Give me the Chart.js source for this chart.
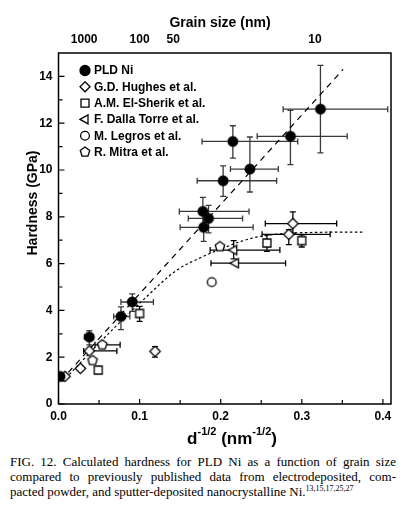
<!DOCTYPE html>
<html>
<head>
<meta charset="utf-8">
<script src="https://cdn.jsdelivr.net/npm/chart.js@4.4.1/dist/chart.umd.min.js"></script>
<style>
body { margin: 0; background: #fff; width: 410px; height: 521px; position: relative; overflow: hidden; }
#wrap { position: absolute; left: 0; top: 0; width: 410px; height: 450px; }
#caption { position: absolute; left: 10px; top: 454px; width: 386px; font: 13px/15px "Liberation Serif", "Times New Roman", serif; color: #000; }
#caption span { display: block; white-space: nowrap; text-align: justify; text-align-last: justify; }
#caption span.last { text-align-last: left; }
#caption sup { font-size: 8px; vertical-align: 5px; line-height: 0; }
</style>
</head>
<body>
<div id="wrap"><canvas id="hardness-chart" width="410" height="450"></canvas></div>
<div id="caption">
<span>FIG. 12. Calculated hardness for PLD Ni as a function of grain size</span>
<span>compared to previously published data from electrodeposited, com-</span>
<span class="last">pacted powder, and sputter-deposited nanocrystalline Ni.<sup>13,15,17,25,27</sup></span>
</div>
<script>
const ctx = document.getElementById('hardness-chart').getContext('2d');

// axis ticks
const xTickValues = [0, 0.1, 0.2, 0.3, 0.4];
const xMinorTicks = [0.05, 0.15, 0.25, 0.35];
const yTickValues = [0, 2, 4, 6, 8, 10, 12, 14];
const yMinorTicks = [1, 3, 5, 7, 9, 11, 13];
const grainSizes = [1000, 100, 50, 10]; // top axis labels (nm)

// PLD Ni (this work)
const pldX = [0.002, 0.038, 0.077, 0.091, 0.178, 0.185, 0.179, 0.203, 0.215, 0.236, 0.286, 0.323];
const pldY = [1.18, 2.86, 3.74, 4.36, 8.23, 7.93, 7.55, 9.54, 11.22, 10.04, 11.44, 12.6];
const pldXErr = [null, [0.032, 0.043], [0.068, 0.088], [0.077, 0.117], [0.149, 0.235], [0.160, 0.227],
                 [0.150, 0.240], [0.171, 0.269], [0.177, 0.295], [0.212, 0.271], [0.245, 0.356], [0.277, 0.406]];
const pldYErr = [null, [2.53, 3.13], [3.18, 4.15], [3.96, 4.71], [7.63, 8.83], [7.31, 8.49],
                 [6.95, 8.15], [8.87, 10.18], [10.51, 11.89], [9.06, 11.41], [10.23, 12.55], [10.73, 14.47]];

// G.D. Hughes et al.
const hughesX = [0.008, 0.027, 0.038, 0.119, 0.284, 0.289];
const hughesY = [1.18, 1.52, 2.27, 2.25, 7.25, 7.71];
const hughesXErr = [null, null, [0.031, 0.072], null, [0.251, 0.335], [0.255, 0.343]];
const hughesYErr = [null, null, null, [2.0, 2.45], [6.81, 7.45], [7.3, 8.21]];

// A.M. El-Sherik et al.
const sherikX = [0.049, 0.1, 0.257, 0.300];
const sherikY = [1.45, 3.87, 6.88, 6.98];
const sherikXErr = [null, null, null, null];
const sherikYErr = [null, [3.53, 4.17], [6.52, 7.23], [6.71, 7.23]];

// F. Dalla Torre et al.
const torreX = [0.216, 0.218];
const torreY = [6.58, 6.02];
const torreXErr = [[0.187, 0.273], [0.188, 0.280]];
const torreYErr = [[6.2, 6.98], null];

// M. Legros et al.
const legrosX = [0.189];
const legrosY = [5.21];

// R. Mitra et al.
const mitraX = [0.042, 0.054, 0.199];
const mitraY = [1.86, 2.53, 6.73];
const mitraXErr = [null, [0.045, 0.076], null];
const mitraYErr = [null, null, null];

// fitted curves
const fitX = [0.003, 0.351];
const fitY = [1.0, 14.3];
const curveX = [0.005, 0.05, 0.1, 0.146, 0.175, 0.2, 0.225, 0.25, 0.3, 0.378];
const curveY = [0.95, 2.6, 4.3, 5.72, 6.25, 6.62, 6.95, 7.17, 7.32, 7.35];

const pts = (xs, ys) => xs.map((x, i) => ({ x: x, y: ys[i] }));

function drawMarker(c, style, x, y, r) {
    c.save();
    c.lineWidth = 1.3;
    c.strokeStyle = '#000';
    c.fillStyle = style === 'dot' ? '#000' : '#fff';
    c.beginPath();
    if (style === 'dot' || style === 'circle') {
        c.arc(x, y, r, 0, Math.PI * 2);
    } else if (style === 'diamond') {
        c.moveTo(x, y - r); c.lineTo(x + r, y); c.lineTo(x, y + r); c.lineTo(x - r, y); c.closePath();
    } else if (style === 'square') {
        c.rect(x - r * 0.8, y - r * 0.8, r * 1.6, r * 1.6);
    } else if (style === 'triangle') {
        c.moveTo(x - r, y); c.lineTo(x + r * 0.6, y - r * 0.9); c.lineTo(x + r * 0.6, y + r * 0.9); c.closePath();
    } else if (style === 'pentagon') {
        for (let k = 0; k < 5; k++) {
            const a = -Math.PI / 2 + k * 2 * Math.PI / 5;
            const px = x + r * Math.cos(a), py = y + r * Math.sin(a);
            if (k === 0) c.moveTo(px, py); else c.lineTo(px, py);
        }
        c.closePath();
    }
    c.fill();
    c.stroke();
    c.restore();
}

// small canvases used as point styles
function markerImage(style, r) {
    const s = Math.ceil(r * 2 + 4);
    const cv = document.createElement('canvas');
    cv.width = s; cv.height = s;
    drawMarker(cv.getContext('2d'), style, s / 2, s / 2, r);
    return cv;
}

const markers = {
    dot: markerImage('dot', 4.8),
    diamond: markerImage('diamond', 5.2),
    square: markerImage('square', 5),
    triangle: markerImage('triangle', 5.2),
    circle: markerImage('circle', 4.4),
    pentagon: markerImage('pentagon', 5)
};

function series(label, marker, xs, ys, xErr, yErr, errColor) {
    return {
        label: label,
        data: pts(xs, ys),
        marker: marker,
        pointStyle: markers[marker],
        pointRadius: 5,
        pointHoverRadius: 5,
        errX: xErr,
        errY: yErr,
        errColor: errColor || '#000',
        inLegend: true
    };
}

// error bars drawn under the markers
const errorBarPlugin = {
    id: 'errorBars',
    beforeDatasetsDraw(chart) {
        const c = chart.ctx, xs = chart.scales.x, ys = chart.scales.y;
        const cap = 3;
        c.save();
        c.lineWidth = 1.3;
        chart.data.datasets.forEach(ds => {
            if (!ds.errX && !ds.errY) return;
            c.strokeStyle = ds.errColor;
            ds.data.forEach((p, i) => {
                const px = xs.getPixelForValue(p.x), py = ys.getPixelForValue(p.y);
                const ex = ds.errX ? ds.errX[i] : null, ey = ds.errY ? ds.errY[i] : null;
                c.beginPath();
                if (ex) {
                    const a = xs.getPixelForValue(ex[0]), b = xs.getPixelForValue(ex[1]);
                    c.moveTo(a, py); c.lineTo(b, py);
                    c.moveTo(a, py - cap); c.lineTo(a, py + cap);
                    c.moveTo(b, py - cap); c.lineTo(b, py + cap);
                }
                if (ey) {
                    const a = ys.getPixelForValue(ey[0]), b = ys.getPixelForValue(ey[1]);
                    c.moveTo(px, a); c.lineTo(px, b);
                    c.moveTo(px - cap, a); c.lineTo(px + cap, a);
                    c.moveTo(px - cap, b); c.lineTo(px + cap, b);
                }
                c.stroke();
            });
        });
        c.restore();
    }
};

// frame, inward ticks, axis titles and the inset legend
const decorPlugin = {
    id: 'decor',
    afterDraw(chart) {
        const c = chart.ctx, a = chart.chartArea, xs = chart.scales.x, ys = chart.scales.y;
        c.save();
        c.strokeStyle = '#000';
        c.lineWidth = 1.5;
        c.strokeRect(a.left, a.top, a.right - a.left, a.bottom - a.top);

        c.lineWidth = 1.2;
        c.beginPath();
        xTickValues.concat(xMinorTicks).forEach(v => {
            const px = xs.getPixelForValue(v);
            const len = xMinorTicks.includes(v) ? 4 : 5;
            c.moveTo(px, a.bottom); c.lineTo(px, a.bottom - len);
        });
        yTickValues.concat(yMinorTicks).forEach(v => {
            const py = ys.getPixelForValue(v);
            const len = yMinorTicks.includes(v) ? 4 : 6;
            c.moveTo(a.left, py); c.lineTo(a.left + len, py);
        });
        c.stroke();

        c.fillStyle = '#000';
        // top title
        c.font = 'bold 14px "Liberation Sans", Arial, sans-serif';
        c.textAlign = 'center';
        c.textBaseline = 'alphabetic';
        c.fillText('Grain size (nm)', 220, 27);

        // left title
        c.save();
        c.translate(37, 203);
        c.rotate(-Math.PI / 2);
        c.fillText('Hardness (GPa)', 0, 0);
        c.restore();

        // bottom title with superscripts
        const big = 'bold 17px "Liberation Sans", Arial, sans-serif';
        const small = 'bold 11px "Liberation Sans", Arial, sans-serif';
        const parts = [['d', big, 0], ['-1/2', small, -9], [' (nm', big, 0], ['-1/2', small, -9], [')', big, 0]];
        let total = 0;
        parts.forEach(p => { c.font = p[1]; total += c.measureText(p[0]).width; });
        let cx = 232 - total / 2;
        c.textAlign = 'left';
        parts.forEach(p => {
            c.font = p[1];
            c.fillText(p[0], cx, 444 + p[2]);
            cx += c.measureText(p[0]).width;
        });

        // legend inside the plot
        c.font = 'bold 12px "Liberation Sans", Arial, sans-serif';
        c.textBaseline = 'middle';
        let row = 0;
        chart.data.datasets.forEach(ds => {
            if (!ds.inLegend) return;
            const y = 70.5 + row * 16.3;
            drawMarker(c, ds.marker, 85, y, ds.marker === 'circle' ? 4.4 : 5);
            c.fillStyle = '#000';
            c.fillText(ds.label, 94, y + 0.5);
            row++;
        });
        c.restore();
    }
};

const tickFont = { family: '"Liberation Sans", Arial, sans-serif', weight: 'bold', size: 12 };

let chart = new Chart(ctx, {
    type: 'scatter',
    data: {
        datasets: [
            series('PLD Ni', 'dot', pldX, pldY, pldXErr, pldYErr, '#3a3a3a'),
            series('G.D. Hughes et al.', 'diamond', hughesX, hughesY, hughesXErr, hughesYErr),
            series('A.M. El-Sherik et al.', 'square', sherikX, sherikY, sherikXErr, sherikYErr),
            series('F. Dalla Torre et al.', 'triangle', torreX, torreY, torreXErr, torreYErr),
            series('M. Legros et al.', 'circle', legrosX, legrosY, null, null),
            series('R. Mitra et al.', 'pentagon', mitraX, mitraY, mitraXErr, mitraYErr),
            {
                type: 'line',
                label: 'Hall-Petch fit',
                data: pts(fitX, fitY),
                showLine: true,
                borderColor: '#000',
                borderWidth: 1.2,
                borderDash: [6, 5],
                pointRadius: 0,
                fill: false
            },
            {
                type: 'line',
                label: 'trend',
                data: pts(curveX, curveY),
                showLine: true,
                borderColor: '#000',
                borderWidth: 1.2,
                borderDash: [2.5, 2.5],
                pointRadius: 0,
                cubicInterpolationMode: 'monotone',
                fill: false
            }
        ]
    },
    options: {
        responsive: false,
        animation: false,
        layout: { padding: { left: 0, right: 19, top: 0, bottom: 0 } },
        plugins: {
            legend: { display: false },
            tooltip: { enabled: false }
        },
        scales: {
            x: {
                type: 'linear',
                position: 'bottom',
                min: 0,
                max: 0.41,
                afterBuildTicks: s => { s.ticks = xTickValues.map(v => ({ value: v })); },
                afterFit: s => { s.height = 46; },
                ticks: {
                    font: tickFont, color: '#000', padding: 5, maxRotation: 0, autoSkip: false,
                    callback: v => v.toFixed(1)
                },
                grid: { display: false, drawTicks: false },
                border: { display: false }
            },
            x2: {
                type: 'linear',
                position: 'top',
                min: 0,
                max: 0.41,
                afterBuildTicks: s => { s.ticks = grainSizes.map(d => ({ value: 1 / Math.sqrt(d) })); },
                afterFit: s => { s.height = 53; },
                ticks: {
                    font: tickFont, color: '#000', padding: 6, maxRotation: 0, autoSkip: false,
                    callback: (v, i) => String(grainSizes[i])
                },
                grid: { display: false, drawTicks: false },
                border: { display: false }
            },
            y: {
                type: 'linear',
                position: 'left',
                min: 0,
                max: 15,
                afterBuildTicks: s => { s.ticks = yTickValues.map(v => ({ value: v })); },
                afterFit: s => { s.width = 58.5; },
                ticks: { font: tickFont, color: '#000', padding: 6 },
                grid: { display: false, drawTicks: false },
                border: { display: false }
            }
        }
    },
    plugins: [errorBarPlugin, decorPlugin]
});
</script>
</body>
</html>
